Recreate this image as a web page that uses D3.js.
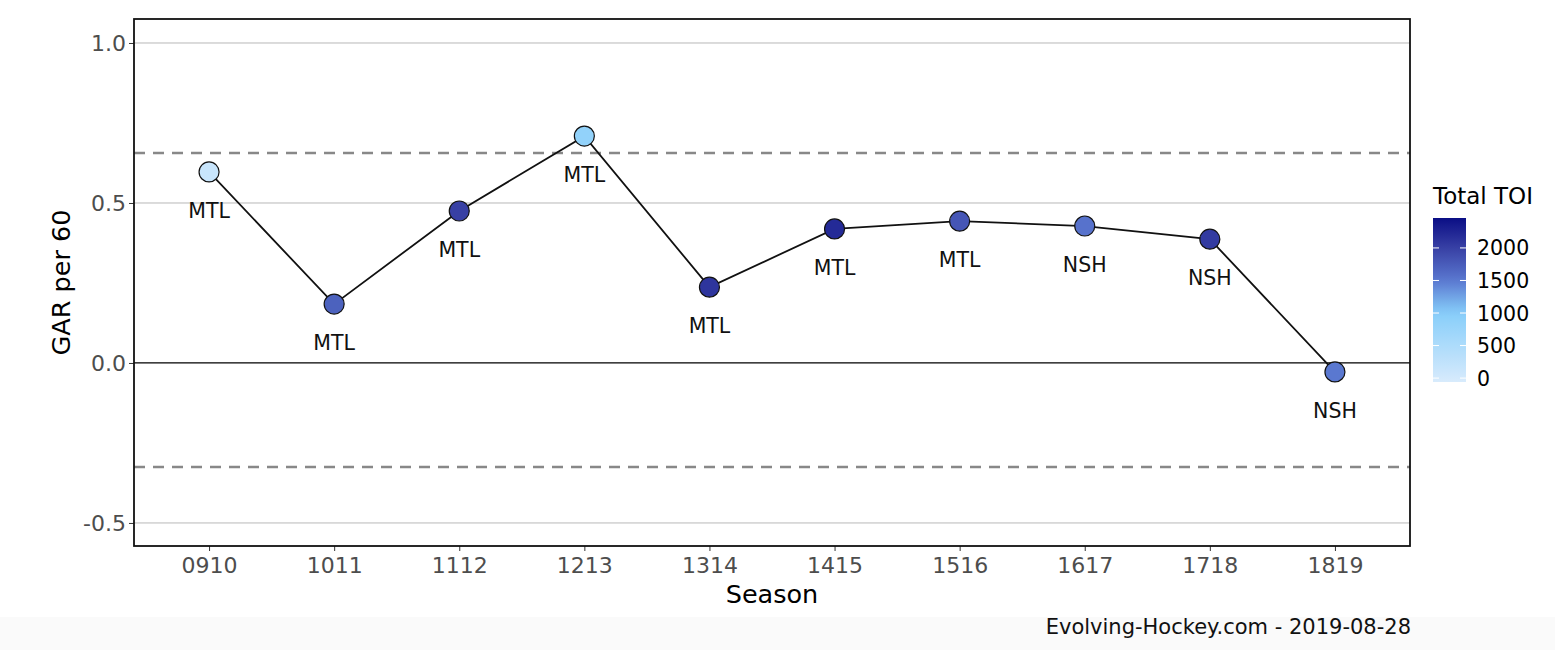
<!DOCTYPE html>
<html>
<head>
<meta charset="utf-8">
<script src="https://cdn.jsdelivr.net/npm/d3@7"></script>
<style>
    body { margin: 0; background: #fff; }
    svg text { font-family: "DejaVu Sans", sans-serif; }
</style>
</head>
<body>
<svg id="chart" width="1555" height="650"></svg>
<script>
/*globals d3*/
var seasons = ["0910", "1011", "1112", "1213", "1314", "1415", "1516", "1617", "1718", "1819"],
    teams = ["MTL", "MTL", "MTL", "MTL", "MTL", "MTL", "MTL", "NSH", "NSH", "NSH"],
    garPer60 = [0.597, 0.184, 0.475, 0.709, 0.237, 0.419, 0.443, 0.428, 0.387, -0.028],
    totalToi = [150, 1700, 2000, 850, 2100, 2200, 1800, 1550, 2050, 1500],
    refLines = [0.656, -0.325],
    yTicks = [-0.5, 0, 0.5, 1.0],
    legendTicks = [0, 500, 1000, 1500, 2000];

(function () {
    "use strict";
    var svg = d3.select("#chart"),
        left = 134, right = 1410, top = 19, bottom = 546,
        step = (right - left) / 10.2,
        x = d3.scalePoint().domain(seasons).range([left + 0.6 * step, right - 0.6 * step]),
        y = d3.scaleLinear().domain([-0.572, 1.075]).range([bottom, top]),
        colour = d3.scaleLinear()
            .domain([0, 1000, 1500, 2000, 2450])
            .range(["#d3e9fc", "#87cefa", "#5a78d0", "#3840a4", "#0b0f86"]),
        rows = seasons.map(function (s, i) {
            return {season: s, team: teams[i], gar: garPer60[i], toi: totalToi[i]};
        });

    // caption strip at bottom
    svg.append("rect").attr("x", 0).attr("y", 617).attr("width", 1555).attr("height", 33)
        .attr("fill", "#fafafa");

    // grid
    svg.append("g").selectAll("line").data(yTicks).enter().append("line")
        .attr("x1", left).attr("x2", right)
        .attr("y1", function (d) { return y(d); }).attr("y2", function (d) { return y(d); })
        .attr("stroke", function (d) { return d === 0 ? "#000" : "#b8b8b8"; })
        .attr("stroke-width", function (d) { return d === 0 ? 1.2 : 1; });

    svg.append("g").selectAll("line").data(refLines).enter().append("line")
        .attr("x1", left).attr("x2", right)
        .attr("y1", function (d) { return y(d); }).attr("y2", function (d) { return y(d); })
        .attr("stroke", "#888").attr("stroke-width", 2.5).attr("stroke-dasharray", "11,8");

    // axes
    var yAxis = svg.append("g").attr("transform", "translate(" + left + ",0)")
        .call(d3.axisLeft(y).tickValues(yTicks)
            .tickFormat(function (d) { return d3.format(".1f")(d).replace("\u2212", "-"); })
            .tickSize(5).tickPadding(3));
    var xAxis = svg.append("g").attr("transform", "translate(0," + bottom + ")")
        .call(d3.axisBottom(x).tickSize(5).tickPadding(6));
    [yAxis, xAxis].forEach(function (a) {
        a.select(".domain").remove();
        a.selectAll(".tick line").attr("stroke", "#333");
        a.selectAll(".tick text").attr("fill", "#4d4d4d").style("font-size", "22px");
    });

    svg.append("text").attr("x", (left + right) / 2).attr("y", 603)
        .attr("text-anchor", "middle").style("font-size", "25.5px").text("Season");
    svg.append("text").attr("transform", "translate(70," + ((top + bottom) / 2) + ") rotate(-90)")
        .attr("text-anchor", "middle").style("font-size", "25.5px").text("GAR per 60");

    // line and points
    svg.append("path").datum(rows)
        .attr("d", d3.line().x(function (d) { return x(d.season); }).y(function (d) { return y(d.gar); }))
        .attr("fill", "none").attr("stroke", "#111").attr("stroke-width", 1.8);

    svg.append("g").selectAll("circle").data(rows).enter().append("circle")
        .attr("cx", function (d) { return x(d.season); })
        .attr("cy", function (d) { return y(d.gar); })
        .attr("r", 10)
        .attr("fill", function (d) { return colour(d.toi); })
        .attr("stroke", "#111").attr("stroke-width", 1.2);

    svg.append("g").selectAll("text").data(rows).enter().append("text")
        .attr("x", function (d) { return x(d.season); })
        .attr("y", function (d) { return y(d.gar) + 46; })
        .attr("text-anchor", "middle").style("font-size", "20.5px").attr("fill", "#111")
        .text(function (d) { return d.team; });

    // panel border
    svg.append("rect").attr("x", left).attr("y", top)
        .attr("width", right - left).attr("height", bottom - top)
        .attr("fill", "none").attr("stroke", "#111").attr("stroke-width", 1.8);

    // legend
    var lx = 1433, ly0 = 218, ly1 = 382, lw = 33,
        ly = d3.scaleLinear().domain([-60, 2460]).range([ly1, ly0]),
        defs = svg.append("defs"),
        grad = defs.append("linearGradient").attr("id", "toiGrad")
            .attr("x1", 0).attr("y1", 1).attr("x2", 0).attr("y2", 0);
    d3.range(0, 1.0001, 0.05).forEach(function (t) {
        grad.append("stop").attr("offset", t)
            .attr("stop-color", colour(ly.invert(ly1 - t * (ly1 - ly0))));
    });
    svg.append("text").attr("x", lx).attr("y", 204).style("font-size", "23px").text("Total TOI");
    svg.append("rect").attr("x", lx).attr("y", ly0).attr("width", lw).attr("height", ly1 - ly0)
        .attr("fill", "url(#toiGrad)");
    var lt = svg.append("g").selectAll("g").data(legendTicks).enter().append("g");
    lt.append("line").attr("x1", lx).attr("x2", lx + 6)
        .attr("y1", function (d) { return ly(d); }).attr("y2", function (d) { return ly(d); })
        .attr("stroke", "#fff").attr("stroke-width", 1);
    lt.append("line").attr("x1", lx + lw - 6).attr("x2", lx + lw)
        .attr("y1", function (d) { return ly(d); }).attr("y2", function (d) { return ly(d); })
        .attr("stroke", "#fff").attr("stroke-width", 1);
    lt.append("text").attr("x", lx + 44).attr("y", function (d) { return ly(d) + 7.5; })
        .style("font-size", "20.5px").text(function (d) { return d; });

    svg.append("text").attr("x", 1411).attr("y", 634).attr("text-anchor", "end")
        .style("font-size", "21px").attr("fill", "#111").text("Evolving-Hockey.com - 2019-08-28");
}());
</script>
</body>
</html>
